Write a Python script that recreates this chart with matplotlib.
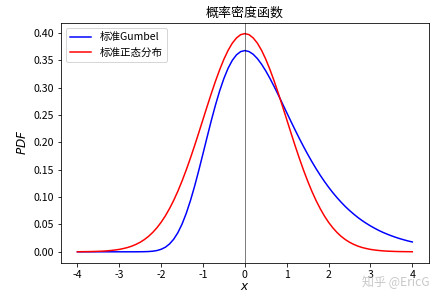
import matplotlib
matplotlib.use("Agg")
import matplotlib.pyplot as plt

plt.rcParams["font.family"] = ["Noto Sans CJK SC", "DejaVu Sans"]
plt.rcParams["axes.unicode_minus"] = False

# x positions (step 0.1)
x = [round(-4.0 + 0.1 * i, 1) for i in range(81)]

# standard Gumbel curve
gumbel_pdf = [
    0.0, 0.0, 0.0, 0.0, 0.0, 0.0, 0.0, 0.0, 0.0, 0.0,            # -4.0 .. -3.1
    0.0, 0.0, 0.0, 0.0, 0.0, 0.0001, 0.0002, 0.0005, 0.0011, 0.0023,  # -3.0 .. -2.1
    0.0046, 0.0083, 0.0143, 0.0230, 0.0350, 0.0507, 0.0703, 0.0936, 0.1200, 0.1490,  # -2.0 .. -1.1
    0.1794, 0.2102, 0.2404, 0.2688, 0.2946, 0.3170, 0.3356, 0.3500, 0.3601, 0.3660,  # -1.0 .. -0.1
    0.3679, 0.3661, 0.3611, 0.3532, 0.3429, 0.3307, 0.3170, 0.3022, 0.2867, 0.2707,  # 0.0 .. 0.9
    0.2546, 0.2386, 0.2229, 0.2075, 0.1927, 0.1785, 0.1650, 0.1522, 0.1401, 0.1288,  # 1.0 .. 1.9
    0.1182, 0.1083, 0.0992, 0.0907, 0.0828, 0.0756, 0.0690, 0.0628, 0.0572, 0.0521,  # 2.0 .. 2.9
    0.0474, 0.0431, 0.0391, 0.0355, 0.0323, 0.0293, 0.0266, 0.0241, 0.0219, 0.0198,  # 3.0 .. 3.9
    0.0180,
]

# standard normal curve
normal_pdf = [
    0.0001, 0.0002, 0.0003, 0.0004, 0.0006, 0.0009, 0.0012, 0.0017, 0.0024, 0.0033,
    0.0044, 0.0060, 0.0079, 0.0104, 0.0136, 0.0175, 0.0224, 0.0283, 0.0355, 0.0440,
    0.0540, 0.0656, 0.0790, 0.0940, 0.1109, 0.1295, 0.1497, 0.1714, 0.1942, 0.2179,
    0.2420, 0.2661, 0.2897, 0.3123, 0.3332, 0.3521, 0.3683, 0.3814, 0.3910, 0.3970,
    0.3989, 0.3970, 0.3910, 0.3814, 0.3683, 0.3521, 0.3332, 0.3123, 0.2897, 0.2661,
    0.2420, 0.2179, 0.1942, 0.1714, 0.1497, 0.1295, 0.1109, 0.0940, 0.0790, 0.0656,
    0.0540, 0.0440, 0.0355, 0.0283, 0.0224, 0.0175, 0.0136, 0.0104, 0.0079, 0.0060,
    0.0044, 0.0033, 0.0024, 0.0017, 0.0012, 0.0009, 0.0006, 0.0004, 0.0003, 0.0002,
    0.0001,
]

fig = plt.figure(figsize=(441 / 72, 300 / 72), dpi=72)
ax = fig.add_axes([0.1376, 0.1243, 0.8352, 0.80])

ax.plot(x, gumbel_pdf, color="b", lw=1.5, label="标准Gumbel")
ax.plot(x, normal_pdf, color="r", lw=1.5, label="标准正态分布")
ax.axvline(0, color="k", lw=0.5)

ax.set_title("概率密度函数", fontsize=13)
ax.set_xlabel("$x$", fontsize=12, labelpad=0)
ax.set_ylabel("$PDF$", fontsize=12)
ax.tick_params(labelsize=10.5)
ax.legend(loc="upper left", fontsize=10.5)

# site watermark at the lower right
fig.text(0.975, 0.035, "知乎 @EricG", color="#c8c8c8", fontsize=12,
         ha="right", va="bottom")

fig.savefig("out.png", dpi=72)
